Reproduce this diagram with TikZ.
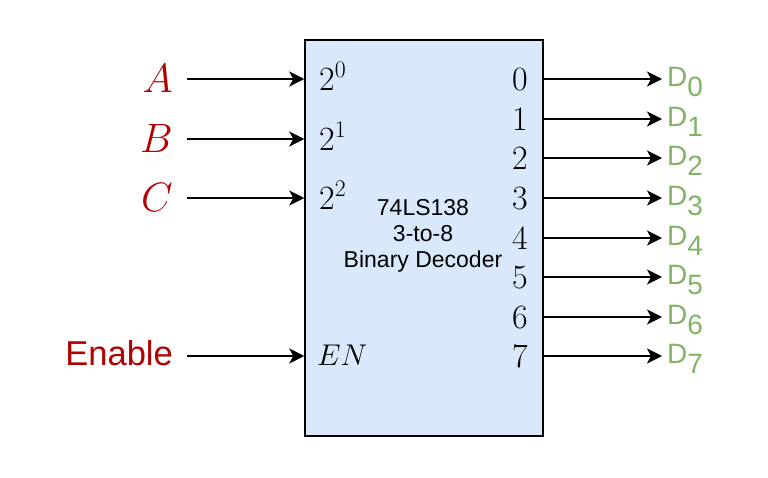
\RequirePackage{fix-cm}
\documentclass[tikz,border=0pt]{standalone}
\usepackage{fontspec}
\newfontfamily\arialf{Liberation Sans}
\usetikzlibrary{arrows.meta}
\definecolor{inred}{HTML}{B20000}
\definecolor{outgreen}{HTML}{82B366}
\definecolor{boxfill}{HTML}{DAE8FC}
\begin{document}
\begin{tikzpicture}[x=1pt,y=-1pt,
  arr/.style={line width=1.7pt,-{Stealth[length=15pt,width=15pt,inset=4pt]}},
  inlbl/.style={text=inred,font=\fontsize{41}{48}\selectfont,anchor=base east,inner sep=0pt},
  enlbl/.style={text=inred,font=\arialf\fontsize{34.5}{40}\selectfont,anchor=base east,inner sep=0pt},
  pinl/.style={font=\fontsize{34}{40}\selectfont,anchor=base west,inner sep=0pt},
  pinr/.style={font=\fontsize{34}{40}\selectfont,anchor=base,inner sep=0pt},
  outlbl/.style={text=outgreen,font=\arialf\fontsize{28}{32}\selectfont,anchor=base west,inner sep=0pt},
  decbox/.style={draw=black,line width=1.5pt,fill=boxfill,minimum width=238pt,minimum height=396pt,inner sep=0pt}
]
\useasboundingbox (0,0) rectangle (768,477);
\node[decbox] (box) at (424,238) {};
\node[font=\arialf\fontsize{23}{26}\selectfont,align=center,anchor=north,inner sep=0pt] (title) at (423,199) {74LS138\\3-to-8\\Binary Decoder};
% inputs
\node[inlbl] (lA) at (173,92) {$A$};
\node[inlbl] (lB) at (173,152) {$B$};
\node[inlbl] (lC) at (173,211) {$C$};
\node[enlbl] (lEN) at (173,365) {Enable};
\coordinate (sA) at (187,79);
\coordinate (sB) at (187,139);
\coordinate (sC) at (187,198);
\coordinate (sEN) at (187,356);
\foreach \s in {sA,sB,sC,sEN}{
  \draw[arr] (\s) -- (\s -| box.west);
}
\node[pinl] (p0) at (319,90) {$2^0$};
\node[pinl] (p1) at (319,150) {$2^1$};
\node[pinl] (p2) at (319,209) {$2^2$};
\node[pinl,font=\fontsize{30}{36}\selectfont] (pEN) at (317,365) {$EN$};
% outputs
\foreach \k/\yy in {0/79,1/119,2/158,3/198,4/238,5/277,6/317,7/356}{
  \coordinate (o\k) at (543,\yy);
  \coordinate (e\k) at (662,\yy);
  \node[pinr] (q\k) at (520,\yy+11) {$\k$};
  \draw[arr] (o\k) -- (e\k);
  \node[outlbl] (d\k) at (667,\yy+7) {D\raisebox{-10pt}{\k}};
}
\end{tikzpicture}
\end{document}
